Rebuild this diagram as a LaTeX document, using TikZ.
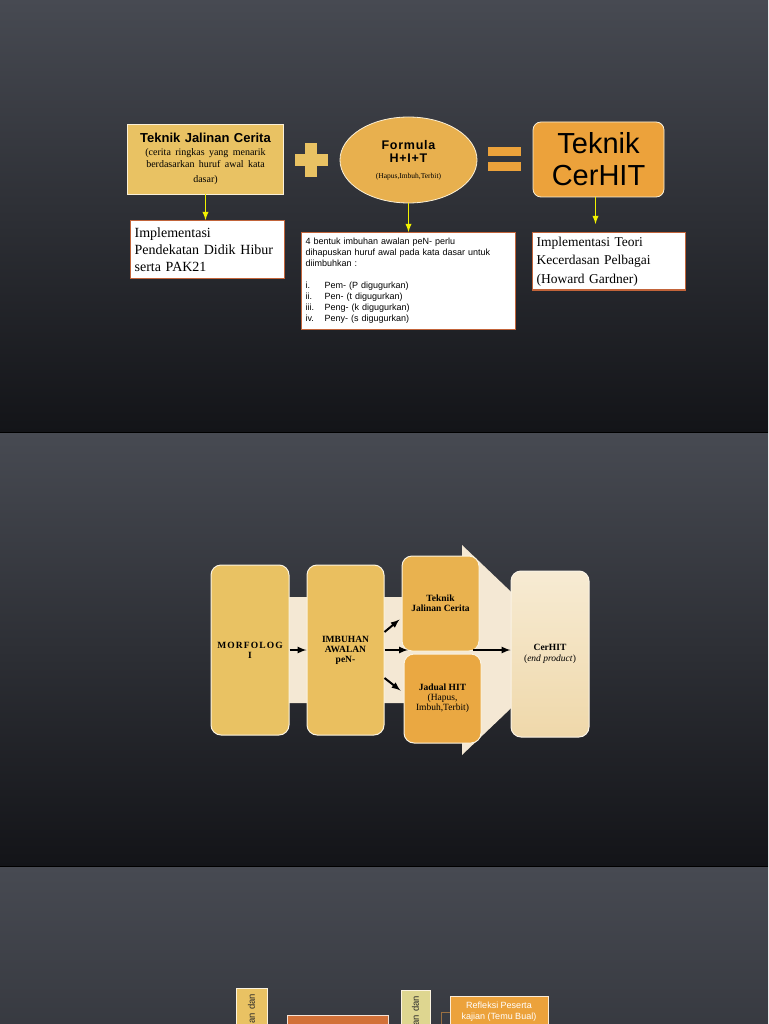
\documentclass[tikz,border=0pt]{standalone}
\usepackage{fontspec}
\setmainfont{Liberation Serif}
\setsansfont{Liberation Sans}
\usepackage{tikz}
\usetikzlibrary{shapes.geometric}

\definecolor{bgtop}{HTML}{474A52}
\definecolor{bgbot}{HTML}{131418}
\definecolor{gold}{HTML}{E9C263}
\definecolor{ovalgold}{HTML}{E8B04E}
\definecolor{deeporange}{HTML}{ECA23B}
\definecolor{midorange}{HTML}{E9B24F}
\definecolor{jadorange}{HTML}{EAA842}
\definecolor{cream}{HTML}{F4E8D4}
\definecolor{creamtop}{HTML}{F7EBD3}
\definecolor{creambot}{HTML}{EFD8AA}
\definecolor{rust}{HTML}{C2643A}
\definecolor{arrowyellow}{HTML}{F2F200}
\definecolor{paleyellow}{HTML}{DED690}
\definecolor{brickorange}{HTML}{D27138}
\definecolor{linkbrown}{HTML}{9A7042}
\definecolor{darktext}{HTML}{2A2A2A}

\begin{document}
\begin{tikzpicture}[x=1pt, y=-1pt,
    goldbox/.style={draw=white!75!gold, line width=0.8, align=center, inner sep=3},
    whitebox/.style={draw=rust, line width=1.3, fill=white, align=left, anchor=north west, inner sep=4},
    yarrow/.style={-latex, draw=arrowyellow, line width=1.8},
    block/.style={rounded corners=10, draw=white!80!gold, line width=1, align=center, inner sep=2,
                  font=\bfseries\fontsize{9.5}{10}\selectfont},
    barrow/.style={-latex, line width=2},
    colbox/.style={draw=white!80!gold, line width=0.8, rotate=90, align=right, inner sep=3,
                   text=darktext, font=\sffamily\fontsize{9.5}{10}\selectfont}]
  \clip (0,0) rectangle (768,1024);
  % slide backgrounds
  \shade[top color=bgtop, bottom color=bgbot] (0,0) rectangle (768,432);
  \shade[top color=bgtop, bottom color=bgbot] (0,433) rectangle (768,866);
  \shade[top color=bgtop, bottom color=bgtop!70!bgbot] (0,867) rectangle (768,1024);
  \fill[black] (0,432) rectangle (768,433);
  \fill[black] (0,866) rectangle (768,867);

  % ---- slide 1 ----
  \node[goldbox, fill=gold, minimum width=155, minimum height=70, text width=150,
        font=\sffamily\bfseries\fontsize{13}{15}\selectfont] (jalinan) at (205.5,159)
    {Teknik Jalinan Cerita\\[1pt]
     \rmfamily\mdseries\fontsize{10}{12}\selectfont (cerita ringkas yang menarik\\
     berdasarkan huruf awal kata\\ dasar)};
  % plus sign
  \fill[gold] (305,143) rectangle (317,177);
  \fill[gold] (295,154) rectangle (328,166);
  \node[goldbox, shape=ellipse, fill=ovalgold, minimum width=137, minimum height=86, inner sep=0,
        font=\sffamily\bfseries\fontsize{12.5}{13}\selectfont] (formula) at (408.5,160)
    {\addfontfeature{LetterSpace=6}Formula\\ \addfontfeature{LetterSpace=6}H+I+T\\[3pt]
     \rmfamily\mdseries\fontsize{7.5}{8}\selectfont (Hapus,Imbuh,Terbit)};
  % equals sign
  \fill[deeporange] (488,147) rectangle (521,156);
  \fill[deeporange] (488,162) rectangle (521,171);
  \node[goldbox, fill=deeporange, rounded corners=8, minimum width=131, minimum height=75,
        font=\sffamily\fontsize{29}{32}\selectfont] (cerhit) at (598.5,159.5)
    {Teknik\\ CerHIT};

  \node[whitebox, text width=146, minimum height=58, font=\fontsize{14}{17}\selectfont] (hibur) at (130,220)
    {Implementasi\\ Pendekatan Didik Hibur\\ serta PAK21};
  \node[whitebox, text width=206, minimum height=97, font=\sffamily\fontsize{9}{11}\selectfont] (imbuhlist) at (301,232)
    {4 bentuk imbuhan awalan peN- perlu\\ dihapuskan huruf awal pada kata dasar untuk\\ diimbuhkan :\\[11pt]
     \makebox[19pt][l]{i.}Pem- (P digugurkan)\\
     \makebox[19pt][l]{ii.}Pen- (t digugurkan)\\
     \makebox[19pt][l]{iii.}Peng- (k digugurkan)\\
     \makebox[19pt][l]{iv.}Peny- (s digugurkan)};
  \node[whitebox, text width=145, minimum height=57, font=\fontsize{13.5}{18.5}\selectfont] (gardner) at (532,232)
    {Implementasi Teori\\ Kecerdasan Pelbagai\\ (Howard Gardner)};

  \draw[yarrow] (jalinan.south) -- (hibur.north -| jalinan.south);
  \draw[yarrow] (formula.south) -- (imbuhlist.north -| formula.south);
  \draw[yarrow, shorten >=8] ([xshift=-3pt]cerhit.south) -- ([xshift=-3pt]cerhit.south |- gardner.north);

  % ---- slide 2 ----
  % background arrow
  \fill[cream] (222,597) -- (462,597) -- (462,545) -- (572,650) -- (462,755) -- (462,703) -- (222,703) -- cycle;
  \node[block, fill=gold, minimum width=78, minimum height=170] (morf) at (250,650)
    {\addfontfeature{LetterSpace=12}MORFOLOG\\ I};
  \node[block, fill=gold!96!orange, minimum width=77, minimum height=170] (imbuhan) at (345.5,650)
    {IMBUHAN\\ AWALAN\\ peN-};
  \node[block, fill=midorange, minimum width=77, minimum height=95, font=\bfseries\fontsize{9.5}{10}\selectfont] (teknik) at (440.5,603.5)
    {Teknik\\ Jalinan Cerita};
  \node[block, fill=jadorange, minimum width=77, minimum height=89, font=\fontsize{9.5}{10}\selectfont] (jadual) at (442.5,698.5)
    {\textbf{Jadual HIT}\\ (Hapus,\\ Imbuh,Terbit)};
  \node[block, top color=creamtop, bottom color=creambot, draw=white!70!creambot, minimum width=78, minimum height=166,
        font=\fontsize{9.5}{11}\selectfont] (final) at (550,654)
    {\textbf{CerHIT}\\ (\textit{end product})};
  \coordinate (meet) at (408,650);
  \coordinate (meetR) at (473,650);

  \draw[barrow] (morf) -- (imbuhan);
  \draw[barrow] ([yshift=18pt]imbuhan.east) -- ([xshift=-2pt, yshift=-16pt]teknik.west);
  \draw[barrow] (imbuhan.east) -- (meet);
  \draw[barrow] ([yshift=-28pt]imbuhan.east) -- ([xshift=-3pt, yshift=8pt]jadual.west);
  \draw[barrow] (meetR) -- (final.west |- meetR);

  % ---- slide 3 ----
  \node[colbox, fill=gold, minimum width=70, minimum height=31, text width=58] (colA) at (251.5,1023) {an dan};
  \node[colbox, fill=paleyellow, minimum width=70, minimum height=29, text width=58] (colB) at (415.5,1025) {an dan};
  \node[draw=white!80!brickorange, line width=0.8, fill=brickorange, minimum width=101, minimum height=30] (midbox) at (337.5,1030) {};
  \node[draw=white!80!deeporange, line width=0.8, fill=deeporange, minimum width=98, minimum height=32, text=white,
        align=center, inner sep=2, font=\sffamily\fontsize{9}{11}\selectfont] (refleksi) at (499,1012)
    {Refleksi Peserta\\ kajian (Temu Bual)};
  \coordinate (linkend) at (441,1030);
  \draw[linkbrown, line width=1] (refleksi.west) -| (linkend);
\end{tikzpicture}
\end{document}
